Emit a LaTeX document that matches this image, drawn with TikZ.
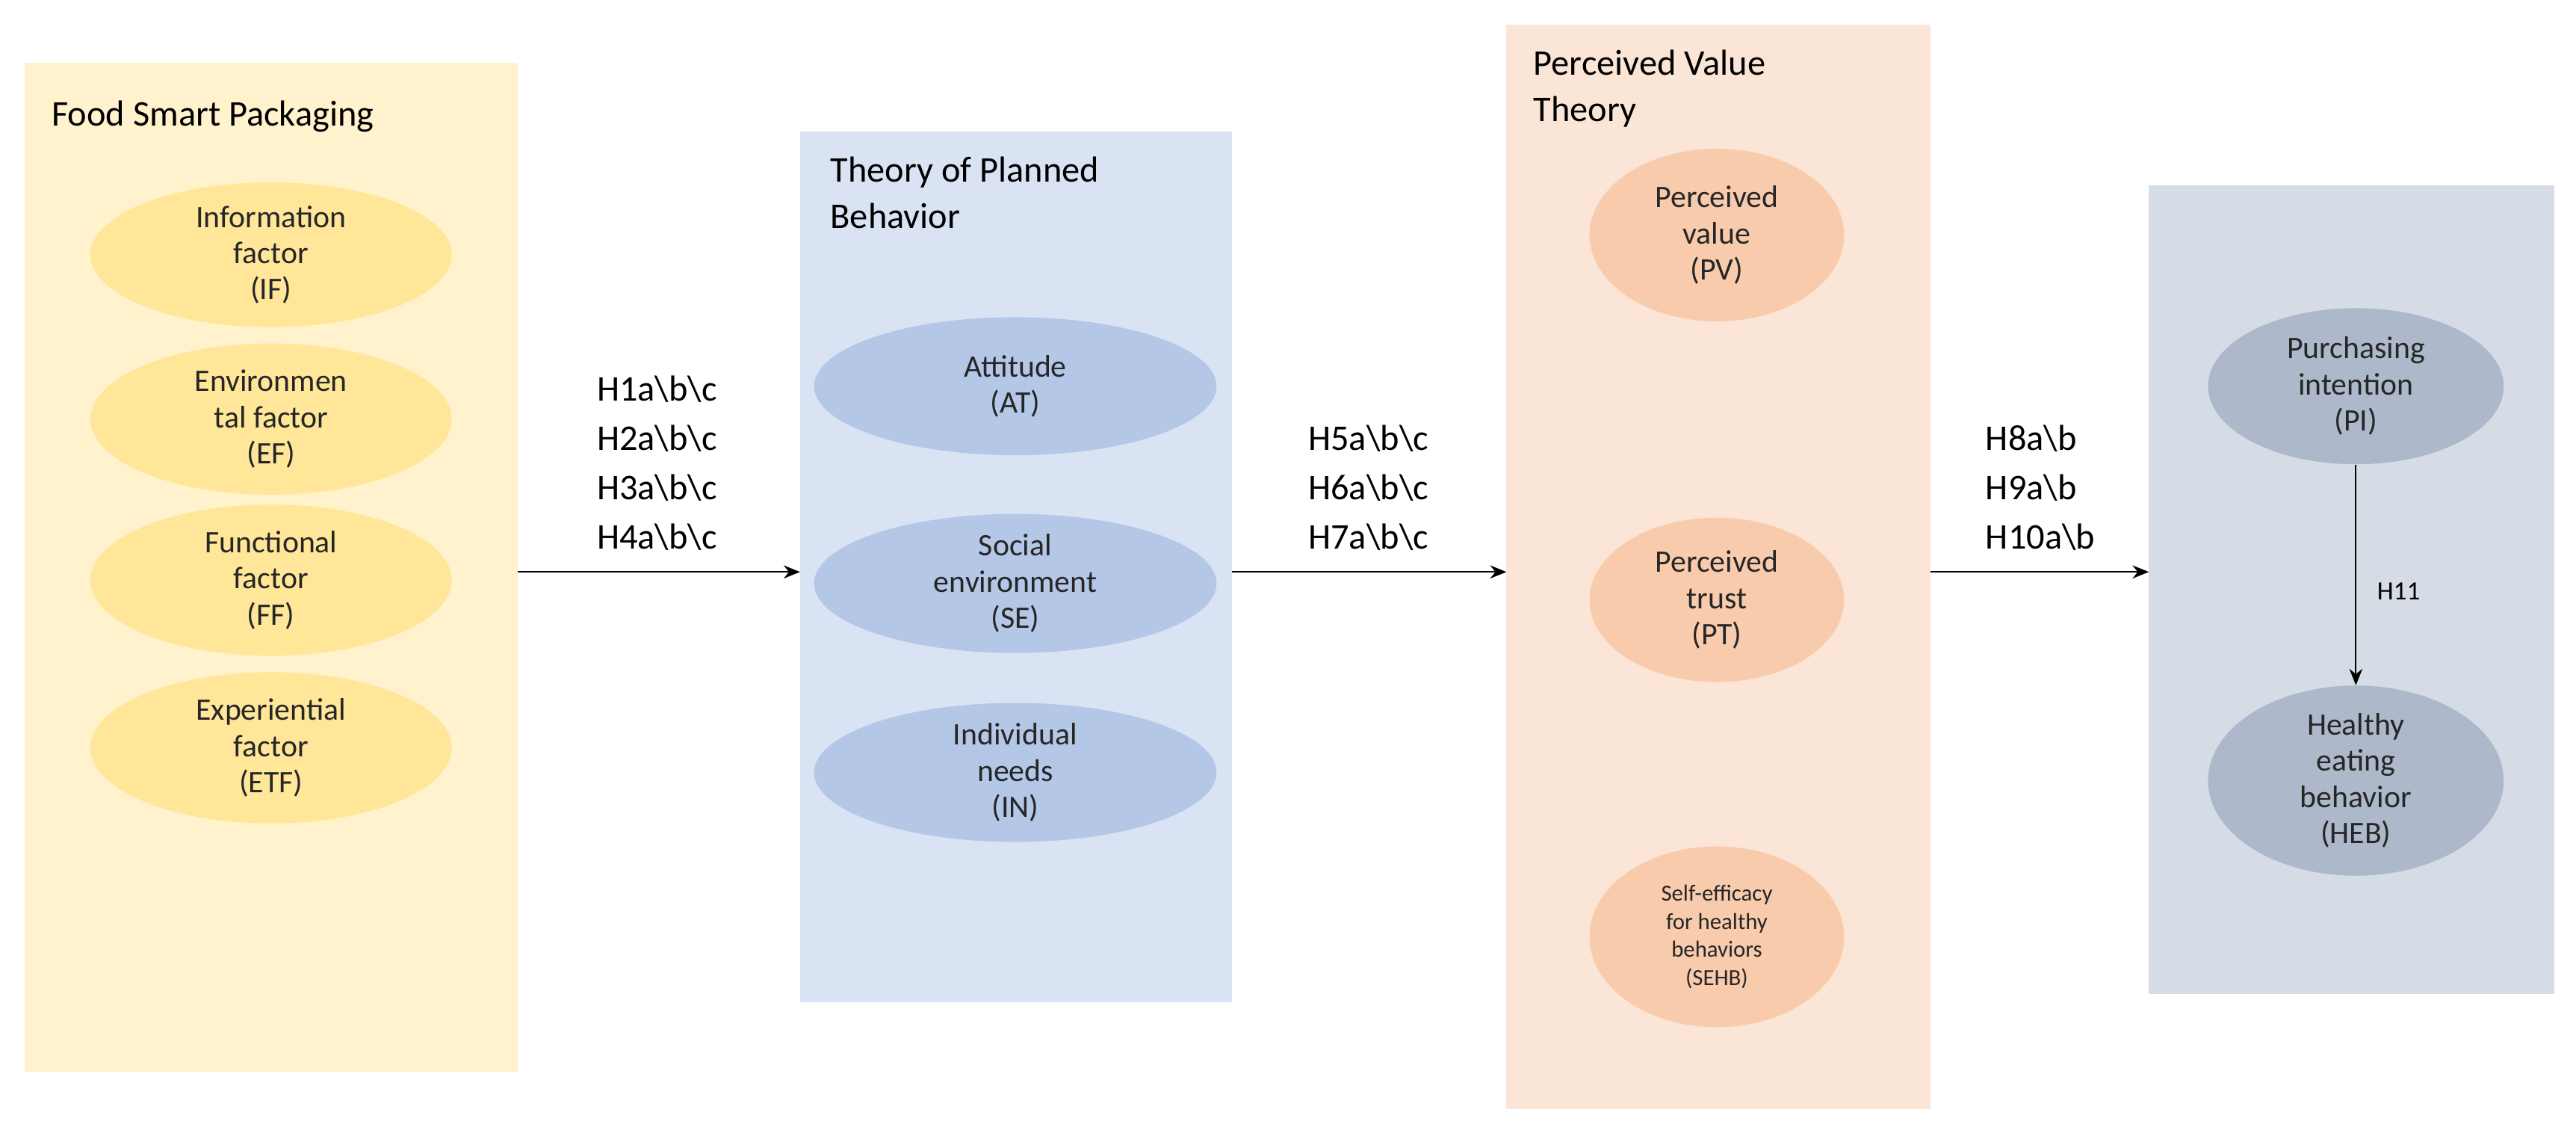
\documentclass[tikz,border=0pt]{standalone}
\usepackage{fontspec}
\setmainfont{Carlito}
\usetikzlibrary{arrows.meta,shapes.geometric}
\definecolor{yp}{HTML}{FFF2CC}\definecolor{ye}{HTML}{FFE699}
\definecolor{bp}{HTML}{DAE3F3}\definecolor{be}{HTML}{B4C7E7}
\definecolor{op}{HTML}{FBE5D6}\definecolor{oe}{HTML}{F8CBAD}
\definecolor{gp}{HTML}{D6DCE5}\definecolor{ge}{HTML}{ADB9CA}
\tikzset{
 ell/.style={ellipse,draw=none,align=center,inner sep=0,font=\fontsize{19}{22}\selectfont,text=black!85},
 ttl/.style={anchor=north west,align=left,font=\fontsize{22}{28}\selectfont},
 lab/.style={align=center,font=\fontsize{22}{30}\selectfont},
 arr/.style={-{Stealth[length=10pt,width=8pt]},line width=0.9pt}
}
\begin{document}
\begin{tikzpicture}[x=1pt,y=-1pt]
\useasboundingbox (0,0) rectangle (1568,693);
\fill[yp] (15,38) rectangle (315,652);
\fill[bp] (487,80) rectangle (750,610);
\fill[op] (917,15) rectangle (1175,675);
\fill[gp] (1308,113) rectangle (1555,605);
\node[ttl] (t1) at (28,58) {Food Smart Packaging};
\node[ttl] (t2) at (502,92) {Theory of Planned\\Behavior};
\node[ttl] (t3) at (930,27) {Perceived Value\\Theory};
\node[ell,fill=ye,minimum width=220,minimum height=88] (if) at (165,155) {Information\\factor\\(IF)};
\node[ell,fill=ye,minimum width=220,minimum height=92] (ef) at (165,255) {Environmen\\tal factor\\(EF)};
\node[ell,fill=ye,minimum width=220,minimum height=92] (ff) at (165,353) {Functional\\factor\\(FF)};
\node[ell,fill=ye,minimum width=220,minimum height=92] (etf) at (165,455) {Experiential\\factor\\(ETF)};
\node[ell,fill=be,minimum width=245,minimum height=84] (at) at (618,235) {Attitude\\(AT)};
\node[ell,fill=be,minimum width=245,minimum height=84] (se) at (618,355) {Social\\environment\\(SE)};
\node[ell,fill=be,minimum width=245,minimum height=84] (in) at (618,470) {Individual\\needs\\(IN)};
\node[ell,fill=oe,minimum width=155,minimum height=105] (pv) at (1045,143) {Perceived\\value\\(PV)};
\node[ell,fill=oe,minimum width=155,minimum height=100] (pt) at (1045,365) {Perceived\\trust\\(PT)};
\node[ell,fill=oe,minimum width=155,minimum height=110,font=\fontsize{14}{17}\selectfont] (sehb) at (1045,570) {Self-efficacy\\for healthy\\behaviors\\(SEHB)};
\node[ell,fill=ge,minimum width=180,minimum height=95] (pi) at (1434,235) {Purchasing\\intention\\(PI)};
\node[ell,fill=ge,minimum width=180,minimum height=100] (heb) at (1434,475) {Healthy\\eating\\behavior\\(HEB)};
\coordinate (a1) at (315,348); \coordinate (b1) at (487,348);
\coordinate (a2) at (750,348); \coordinate (b2) at (917,348);
\coordinate (a3) at (1175,348); \coordinate (b3) at (1308,348);
\draw[arr] (a1) -- (b1);
\draw[arr] (a2) -- (b2);
\draw[arr] (a3) -- (b3);
\draw[arr] (pi) -- (heb);
\node[lab] (l1) at (400,282) {H1a\textbackslash b\textbackslash c\\H2a\textbackslash b\textbackslash c\\H3a\textbackslash b\textbackslash c\\H4a\textbackslash b\textbackslash c};
\node[lab] (l2) at (833,297) {H5a\textbackslash b\textbackslash c\\H6a\textbackslash b\textbackslash c\\H7a\textbackslash b\textbackslash c};
\node[lab,align=left] (l3) at (1242,297) {H8a\textbackslash b\\H9a\textbackslash b\\H10a\textbackslash b};
\node[font=\fontsize{16}{18}\selectfont] (l4) at (1460,360) {H11};
\end{tikzpicture}
\end{document}
